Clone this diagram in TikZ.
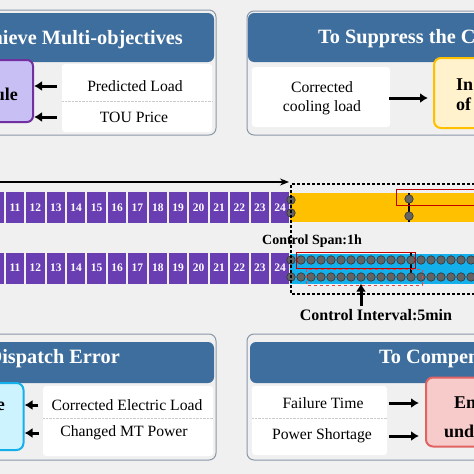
\documentclass[tikz,border=0pt]{standalone}
\usepackage{fontspec}
\setmainfont{Liberation Serif}
\usepackage{xcolor}
\usetikzlibrary{arrows.meta}

\definecolor{bggray}{RGB}{240,240,240}
\definecolor{framegray}{RGB}{140,152,168}
\definecolor{headblue}{RGB}{62,110,157}
\definecolor{slotpurple}{RGB}{104,62,178}
\definecolor{bandorange}{RGB}{255,192,0}
\definecolor{bandblue}{RGB}{20,176,235}
\definecolor{dotgray}{RGB}{100,100,100}
\definecolor{darkred}{RGB}{192,0,0}
\definecolor{lightred}{RGB}{225,70,70}
\definecolor{lavender}{RGB}{200,192,245}
\definecolor{boxpurple}{RGB}{112,48,160}
\definecolor{cream}{RGB}{255,242,204}
\definecolor{cyanfill}{RGB}{205,243,255}
\definecolor{pinkfill}{RGB}{248,203,203}
\definecolor{pinkline}{RGB}{224,100,100}

\tikzset{
	panel/.style={draw=framegray, line width=1pt, fill=bggray, rounded corners=7pt},
	head/.style={fill=headblue, rounded corners=6pt},
	sheet/.style={fill=white, rounded corners=3pt},
	headtxt/.style={text=white, inner sep=0pt, font=\bfseries\fontsize{20.3}{23}\selectfont},
	lbl/.style={inner sep=0pt, align=center, font=\fontsize{15.7}{19}\selectfont},
	boxtxt/.style={inner sep=0pt, font=\bfseries\fontsize{18}{20}\selectfont},
	boldarrow/.style={-{Latex[length=8pt,width=10pt]}, line width=3pt},
	slot/.style={fill=slotpurple, minimum width=18.5pt, minimum height=31pt, inner sep=0pt,
		text=white, font=\bfseries\fontsize{11.5}{12}\selectfont},
	dot/.style={circle, fill=dotgray, draw=black!80, line width=0.6pt, minimum size=8.5pt, inner sep=0pt},
	spantxt/.style={inner sep=0pt, font=\bfseries\fontsize{14}{16}\selectfont},
}

\begin{document}
\begin{tikzpicture}[x=1pt,y=-1pt]
	\useasboundingbox (0,0) rectangle (474,474);
	\clip (0,0) rectangle (474,474);
	\fill[bggray] (0,0) rectangle (474,474);

	% top left panel
	\draw[panel] (-20,10) rectangle (216,135);
	\fill[head] (-20,13) rectangle (214,62);
	\fill[sheet] (62,64) rectangle (212,132);
	\draw[gray!40, densely dotted] (62,101) -- (212,101);
	\node[headtxt, anchor=base east] (tlhead) at (183,44) {hieve Multi-objectives};
	\node[draw=boxpurple, line width=2pt, fill=lavender, rounded corners=6pt,
		minimum width=53pt, minimum height=62pt] (sched) at (6.5,91) {};
	\node[boxtxt, anchor=base east] (schedtxt) at (18,100) {ule};
	\node[lbl] (pload) at (135,86) {Predicted Load};
	\node[lbl] (tou) at (134,117) {TOU Price};
	\draw[boldarrow] ([xshift=-30pt]pload.west) -- (sched.east |- pload);
	\draw[boldarrow] ([xshift=-43pt]tou.west) -- (sched.east |- tou);

	% top right panel
	\draw[panel] (247,11) rectangle (490,135);
	\fill[head] (248,13) rectangle (490,62);
	\fill[sheet] (252,67) rectangle (390,127);
	\node[headtxt, anchor=base west] (trhead) at (318,43) {To Suppress the C};
	\node[draw=bandorange, line width=2pt, fill=cream, rounded corners=7pt,
		minimum width=70pt, minimum height=70pt] (inbox) at (469,93) {};
	\node[boxtxt, anchor=base west] (intxt) at (456,90) {In};
	\node[boxtxt, anchor=base west] (oftxt) at (456,110) {of};
	\node[lbl] (ccl) at (322,98) {Corrected\\cooling load};
	\draw[boldarrow] ([xshift=28pt]ccl.east) -- ([xshift=-5pt]inbox.west |- ccl);

	% time slots
	\coordinate (tstart) at (-5,182);
	\coordinate (tend) at (289,182);
	\draw[-{Stealth[length=9pt,width=7pt]}, line width=1.2pt] (tstart) -- (tend);
	\foreach \n in {10,...,24} {
		\pgfmathsetmacro\cx{15+20.4*(\n-11)}
		\node[slot] (a\n) at (\cx,207.5) {\n};
		\node[slot] (b\n) at (\cx,268) {\n};
	}

	% one hour band
	\fill[bandorange] (290,193) rectangle (474,222);
	\coordinate (rtop) at (409,193);
	\coordinate (rbot) at (409,222);
	\draw[line width=1.4pt] (rtop) -- (rbot);
	\node[dot] (o1) at (291,200) {};
	\node[dot] (o2) at (291,213) {};
	\node[dot] (r1) at (409,199) {};
	\node[dot] (r2) at (409,216) {};
	\draw[darkred, line width=1pt] (396,189) rectangle (480,205);

	% five minute band
	\fill[bandblue] (290,254) rectangle (474,284);
	\coordinate (vtop) at (411,253);
	\coordinate (vbot) at (411,281);
	\draw[line width=1.4pt] (vtop) -- (vbot);
	\foreach \k in {0,...,18} {
		\node[dot] (u\k) at (291+10*\k,260) {};
		\node[dot] (l\k) at (291+10*\k,277) {};
	}
	\draw[darkred, line width=1pt] (296,252) rectangle (415,268);
	\draw[lightred, line width=1pt, dashed] (306,269) rectangle (422,285);

	\draw[line width=1.4pt, dash pattern=on 3pt off 2pt] (480,184) -- (291,184) -- (291,294) -- (480,294);

	\node[spantxt] (span) at (312,241) {Control Span:1h};
	\node[inner sep=0pt, font=\bfseries\fontsize{16}{18}\selectfont] (intv) at (376,315) {Control Interval:5min};
	\draw[boldarrow] (intv.north -| l7) ++(0,-3) -- ([yshift=-2pt]l7.south);

	% bottom left panel
	\draw[panel] (-20,334) rectangle (216,460);
	\fill[head] (-20,342) rectangle (214,383);
	\fill[sheet] (43,386) rectangle (213,456);
	\draw[gray!40, densely dotted] (43,418) -- (213,418);
	\node[headtxt, anchor=base east] (blhead) at (120,363) {Dispatch Error};
	\node[draw=bandblue, line width=2pt, fill=cyanfill, rounded corners=7pt,
		minimum width=53pt, minimum height=67pt] (cbox) at (-3,416.5) {};
	\node[boxtxt, anchor=base east] (ctxt) at (5,410) {e};
	\node[lbl] (cel) at (127,405) {Corrected Electric Load};
	\node[lbl] (mtp) at (124,433) {Changed MT Power};
	\draw[boldarrow] ([xshift=-13pt]cel.west) -- (cbox.east |- cel);
	\draw[boldarrow] ([xshift=-21pt]mtp.west) -- (cbox.east |- mtp);

	% bottom right panel
	\draw[panel] (247,334) rectangle (490,460);
	\fill[head] (250,342) rectangle (490,383);
	\fill[sheet] (252,386) rectangle (387,455);
	\draw[gray!40, densely dotted] (252,418) -- (387,418);
	\node[headtxt, anchor=base west] (brhead) at (379,363) {To Compen};
	\node[draw=pinkline, line width=2pt, fill=pinkfill, rounded corners=7pt,
		minimum width=70pt, minimum height=69pt] (ebox) at (461,412) {};
	\node[boxtxt, anchor=base west] (entxt) at (454,408) {En};
	\node[boxtxt, anchor=base west] (undtxt) at (444,437) {und};
	\node[lbl] (ftime) at (323,403) {Failure Time};
	\node[lbl] (pshort) at (322,436) {Power Shortage};
	\draw[boldarrow] ([xshift=25pt]ftime.east) -- ([xshift=-6pt]ebox.west |- ftime);
	\draw[boldarrow] ([xshift=17pt]pshort.east) -- ([xshift=-6pt]ebox.west |- pshort);
\end{tikzpicture}
\end{document}
